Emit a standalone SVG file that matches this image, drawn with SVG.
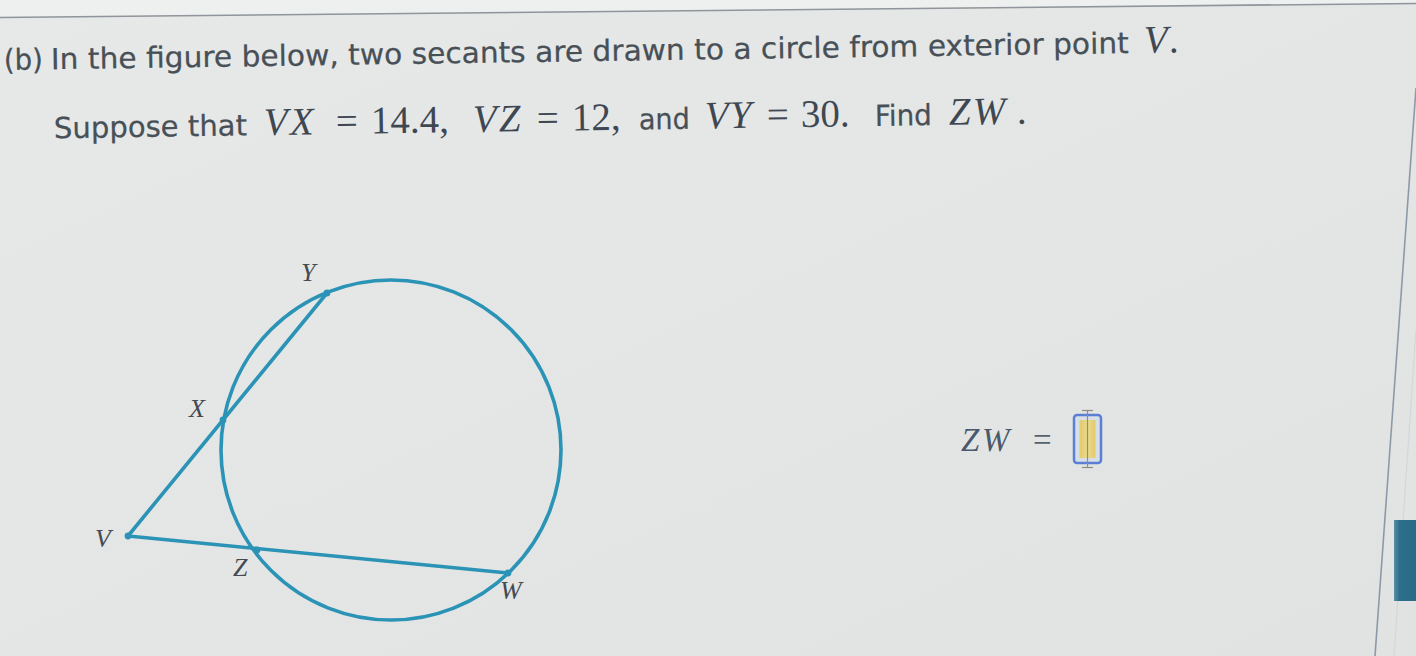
<svg xmlns="http://www.w3.org/2000/svg" width="1416" height="656" viewBox="0 0 1416 656">
  <style>
    .body { font-family: "DejaVu Sans", Verdana, "Liberation Sans", sans-serif; font-size: 29px; fill: #485057; stroke: #485057; stroke-width: 0.25; }
    .mi { font-family: "Liberation Serif", "Times New Roman", serif; font-style: italic; font-size: 39px; fill: #3e4752; }
    .mn { font-family: "Liberation Serif", "Times New Roman", serif; font-size: 39px; fill: #3e4752; }
    .lbl { font-family: "Liberation Serif", "Times New Roman", serif; font-style: italic; font-size: 26px; fill: #444a52; }
    .geo { fill: none; stroke: #2b93b6; stroke-width: 3.6; stroke-linecap: round; }
    .pt { fill: #2b93b6; }
  </style>
  <defs>
    <linearGradient id="bg" x1="0" y1="0" x2="1" y2="1">
      <stop offset="0" stop-color="#e7e9e8"/>
      <stop offset="1" stop-color="#e1e3e2"/>
    </linearGradient>
    <linearGradient id="teal" x1="0" y1="0" x2="1" y2="0">
      <stop offset="0" stop-color="#5a8ea3"/>
      <stop offset="0.25" stop-color="#2c6f8b"/>
      <stop offset="1" stop-color="#2a6a86"/>
    </linearGradient>
    <linearGradient id="ans" x1="0" y1="0" x2="1" y2="0">
      <stop offset="0" stop-color="#e2cb6c"/>
      <stop offset="0.5" stop-color="#ecd98a"/>
      <stop offset="1" stop-color="#e2cb6c"/>
    </linearGradient>
  </defs>

  <!-- background -->
  <rect x="0" y="0" width="1416" height="656" fill="url(#bg)"/>
  <polygon points="0,0 1416,0 1416,3 0,17" fill="#eef0ef"/>
  <line x1="0" y1="17.5" x2="1416" y2="3.5" stroke="#8f959a" stroke-width="1.6"/>
  <!-- right edge -->
  <line x1="1416" y1="88" x2="1375" y2="656" stroke="#8e99a8" stroke-width="1.6"/>
  <line x1="1416" y1="330" x2="1394" y2="656" stroke="#d3d7da" stroke-width="1.2"/>
  <rect x="1394" y="520" width="22" height="81" fill="url(#teal)"/>

  <!-- question text -->
  <g id="question" transform="rotate(-0.86)">
    <text class="body" x="3" y="70" textLength="39" lengthAdjust="spacingAndGlyphs">(b)</text>
    <text class="body" x="50" y="70" textLength="1078" lengthAdjust="spacingAndGlyphs">In the figure below, two secants are drawn to a circle from exterior point</text>
    <text class="mi" x="1143" y="70">V</text>
    <text class="mn" x="1168" y="70">.</text>

    <text class="body" x="52" y="139" textLength="193" lengthAdjust="spacingAndGlyphs">Suppose that</text>
    <text class="mi" x="262" y="139">V</text>
    <text class="mi" x="288" y="139">X</text>
    <text class="mn" x="334" y="139">=</text>
    <text class="mn" x="369" y="139">14.4,</text>
    <text class="mi" x="471" y="139">V</text>
    <text class="mi" x="497" y="139">Z</text>
    <text class="mn" x="535" y="139">=</text>
    <text class="mn" x="570" y="139">12,</text>
    <text class="body" x="637" y="139" textLength="51" lengthAdjust="spacingAndGlyphs">and</text>
    <text class="mi" x="703" y="139">V</text>
    <text class="mi" x="728" y="139">Y</text>
    <text class="mn" x="765" y="139">=</text>
    <text class="mn" x="799" y="139">30.</text>
    <text class="body" x="873" y="139" textLength="57" lengthAdjust="spacingAndGlyphs">Find</text>
    <text class="mi" x="947" y="139">Z</text>
    <text class="mi" x="971" y="139">W</text>
    <text class="mn" x="1015" y="139">.</text>
  </g>

  <!-- figure -->
  <g id="circle">
    <circle class="geo" cx="391" cy="450" r="170"/>
  </g>
  <g id="connectors">
    <line class="geo" x1="128" y1="536" x2="327" y2="293"/>
    <line class="geo" x1="128" y1="536" x2="508" y2="573"/>
  </g>
  <g id="point-V">
    <circle class="pt" cx="128" cy="536" r="3.4"/>
    <text class="lbl" x="95" y="547">V</text>
  </g>
  <g id="point-X">
    <circle class="pt" cx="223" cy="420" r="3.4"/>
    <text class="lbl" x="189" y="417">X</text>
  </g>
  <g id="point-Y">
    <circle class="pt" cx="327" cy="293" r="3.4"/>
    <text class="lbl" x="301" y="281">Y</text>
  </g>
  <g id="point-Z">
    <circle class="pt" cx="257" cy="550" r="3.4"/>
    <text class="lbl" x="233" y="576">Z</text>
  </g>
  <g id="point-W">
    <circle class="pt" cx="508" cy="573" r="3.4"/>
    <text class="lbl" x="500" y="599">W</text>
  </g>

  <!-- answer -->
  <g id="answer">
    <text class="mi" x="961" y="451" style="font-size:33px; fill:#4a596b">Z</text>
    <text class="mi" x="982" y="451" style="font-size:33px; fill:#4a596b">W</text>
    <text class="mn" x="1033" y="451" style="font-size:33px; fill:#56616e">=</text>
    <rect x="1074" y="415" width="27" height="48" rx="3" fill="#d7deea" stroke="#5a7fd4" stroke-width="2.5"/>
    <rect x="1079.5" y="420" width="16" height="38" fill="url(#ans)"/>
    <line x1="1087.5" y1="410" x2="1087.5" y2="468" stroke="#8d8d84" stroke-width="1.2"/>
    <line x1="1082" y1="410.5" x2="1093" y2="410.5" stroke="#8d8d84" stroke-width="1.2"/>
    <line x1="1082" y1="467.5" x2="1093" y2="467.5" stroke="#8d8d84" stroke-width="1.2"/>
  </g>
</svg>
